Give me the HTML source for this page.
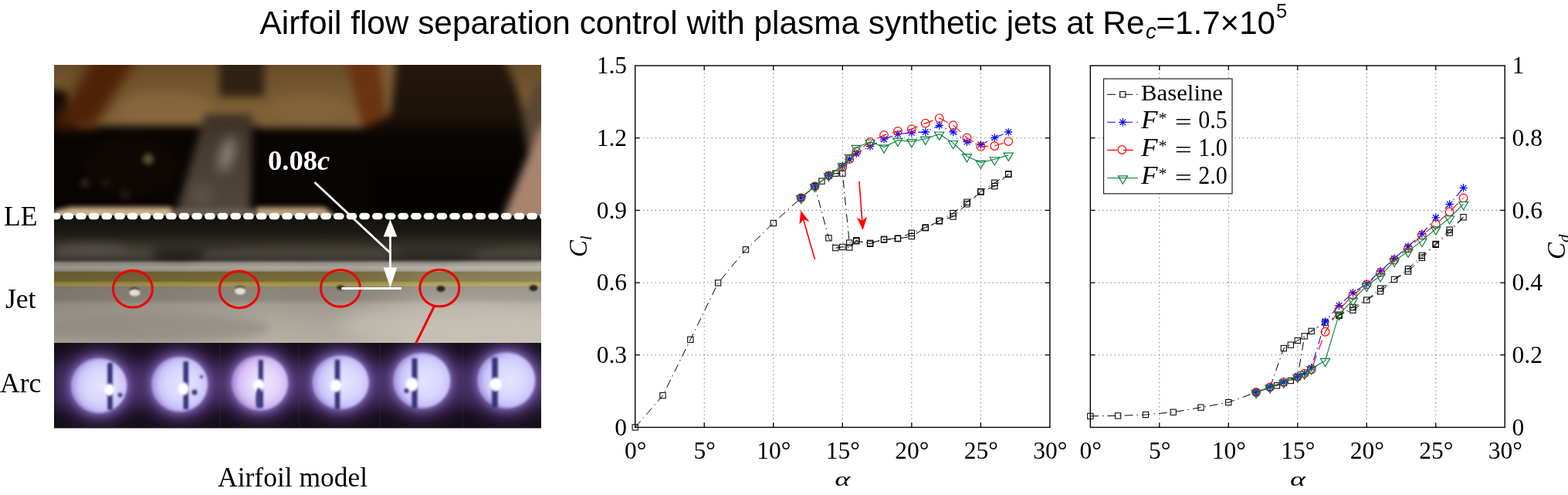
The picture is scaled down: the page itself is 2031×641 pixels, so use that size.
<!DOCTYPE html>
<html><head><meta charset="utf-8"><title>Airfoil flow separation control with plasma synthetic jets</title>
<style>
html,body{margin:0;padding:0;background:#fff;}
body{width:2031px;height:641px;overflow:hidden;}
svg{display:block;}
.tk{font-family:"Liberation Serif","Times New Roman",serif;font-size:31.5px;fill:#000;}
.ax{font-family:"Liberation Serif","Times New Roman",serif;font-size:33px;font-style:italic;fill:#000;}
.lg{font-family:"Liberation Serif","Times New Roman",serif;font-size:30px;fill:#000;}
.lab{font-family:"Liberation Serif","Times New Roman",serif;font-size:35.5px;fill:#000;}
.ttl{font-family:"Liberation Sans",Arial,sans-serif;font-size:41.6px;fill:#000;}
</style></head>
<body>
<svg width="2031" height="641" viewBox="0 0 2031 641">
<rect width="2031" height="641" fill="#fff"/>
<text x="336.5" y="44" class="ttl" textLength="1146" lengthAdjust="spacingAndGlyphs">Airfoil flow separation control with plasma synthetic jets at Re</text>
<text x="1484" y="49.6" class="ttl" style="font-size:27.5px" font-style="italic">c</text>
<text x="1497.5" y="44" class="ttl" textLength="154.5" lengthAdjust="spacingAndGlyphs">=1.7×10</text>
<text x="1653" y="23" class="ttl" style="font-size:25.5px">5</text>
<text x="5" y="291.9" class="lab">LE</text>
<text x="7" y="399" class="lab">Jet</text>
<text x="0" y="507.8" class="lab">Arc</text>
<text x="282" y="630.1" class="lab">Airfoil model</text>
<defs>
<clipPath id="cpTop"><rect x="70" y="84" width="631" height="200"/></clipPath>
<clipPath id="cpMid"><rect x="70" y="279" width="631" height="165"/></clipPath>
<clipPath id="cpArc"><rect x="70" y="444" width="631" height="110.6"/></clipPath>
<filter color-interpolation-filters="sRGB" id="b8" x="-20%" y="-20%" width="140%" height="140%"><feGaussianBlur stdDeviation="8"/></filter>
<filter color-interpolation-filters="sRGB" id="b5" x="-20%" y="-20%" width="140%" height="140%"><feGaussianBlur stdDeviation="5.5"/></filter>
<filter color-interpolation-filters="sRGB" id="b3" x="-20%" y="-20%" width="140%" height="140%"><feGaussianBlur stdDeviation="3"/></filter>
<filter color-interpolation-filters="sRGB" id="b2" x="-20%" y="-20%" width="140%" height="140%"><feGaussianBlur stdDeviation="1.6"/></filter>
<filter color-interpolation-filters="sRGB" id="b1" x="-20%" y="-20%" width="140%" height="140%"><feGaussianBlur stdDeviation="0.8"/></filter>
<filter color-interpolation-filters="sRGB" id="bg6" x="-50%" y="-50%" width="200%" height="200%"><feGaussianBlur stdDeviation="6"/></filter>
<filter color-interpolation-filters="sRGB" id="bg10" x="-50%" y="-50%" width="200%" height="200%"><feGaussianBlur stdDeviation="10"/></filter>
<linearGradient id="gTan" x1="0" y1="0" x2="0" y2="1">
 <stop offset="0" stop-color="#5e4622"/><stop offset="0.25" stop-color="#684d27"/><stop offset="0.6" stop-color="#76592f"/><stop offset="0.85" stop-color="#806238"/><stop offset="1" stop-color="#84663c"/>
</linearGradient>
<linearGradient id="gDarkR" gradientUnits="userSpaceOnUse" x1="0" y1="84" x2="0" y2="230">
 <stop offset="0" stop-color="#24170a"/><stop offset="0.45" stop-color="#1c1209"/><stop offset="0.64" stop-color="#080503"/><stop offset="1" stop-color="#050302"/>
</linearGradient>
<linearGradient id="gMount" x1="0" y1="0" x2="0" y2="1">
 <stop offset="0" stop-color="#3a3024"/><stop offset="0.3" stop-color="#463c30"/><stop offset="1" stop-color="#54493c"/>
</linearGradient>
<linearGradient id="gWing" x1="0" y1="0" x2="0" y2="1">
 <stop offset="0" stop-color="#13110d"/>
 <stop offset="0.127" stop-color="#1b1814"/>
 <stop offset="0.20" stop-color="#2c2924"/>
 <stop offset="0.30" stop-color="#3c3831"/>
 <stop offset="0.345" stop-color="#302d27"/>
 <stop offset="0.372" stop-color="#a29e95"/>
 <stop offset="0.41" stop-color="#aca89f"/>
 <stop offset="0.436" stop-color="#9a958a"/>
 <stop offset="0.445" stop-color="#726538"/>
 <stop offset="0.515" stop-color="#7a6c36"/>
 <stop offset="0.527" stop-color="#a08e40"/>
 <stop offset="0.55" stop-color="#ab9a48"/>
 <stop offset="0.56" stop-color="#8a857a"/>
 <stop offset="0.66" stop-color="#8e897e"/>
 <stop offset="0.70" stop-color="#a39d92"/>
 <stop offset="0.855" stop-color="#b0aa9f"/>
 <stop offset="1" stop-color="#b8b0a4"/>
</linearGradient>
<linearGradient id="gWingH" x1="0" y1="0" x2="1" y2="0">
 <stop offset="0" stop-color="#000" stop-opacity="0.12"/>
 <stop offset="0.45" stop-color="#000" stop-opacity="0"/>
 <stop offset="0.75" stop-color="#fff" stop-opacity="0.12"/>
 <stop offset="1" stop-color="#fff" stop-opacity="0.16"/>
</linearGradient>
<radialGradient id="gHoleP" cx="0.55" cy="0.5" r="0.5">
 <stop offset="0" stop-color="#f0e6ff"/><stop offset="0.6" stop-color="#e2d2fa"/>
 <stop offset="0.88" stop-color="#d0baf2"/><stop offset="1" stop-color="#b496dc"/>
</radialGradient>
<radialGradient id="gHole" cx="0.55" cy="0.5" r="0.5">
 <stop offset="0" stop-color="#e6e4ff"/><stop offset="0.6" stop-color="#d8d5fe"/>
 <stop offset="0.88" stop-color="#c8c2f8"/><stop offset="1" stop-color="#aca2e8"/>
</radialGradient>
<radialGradient id="gGlow" cx="0.5" cy="0.5" r="0.5">
 <stop offset="0.45" stop-color="#6a4f92" stop-opacity="1"/>
 <stop offset="0.7" stop-color="#3e2c58" stop-opacity="0.8"/>
 <stop offset="1" stop-color="#1a1424" stop-opacity="0"/>
</radialGradient>
</defs>
<g clip-path="url(#cpTop)">
<rect x="70" y="84" width="631" height="200" fill="#0a0603"/>
<g filter="url(#b5)">
<path d="M40 60H720V163H40Z" fill="url(#gTan)"/>
<path d="M330 150H472L478 168H330Z" fill="#7e6036"/>
<ellipse cx="215" cy="140" rx="60" ry="22" fill="#8a6b40" opacity="0.7"/>
<ellipse cx="400" cy="140" rx="50" ry="20" fill="#84663c" opacity="0.6"/>
<path d="M40 112L86 118L102 165V290H40Z" fill="#120a04"/>
<path d="M444 60H488L506 150L470 167Z" fill="#6a3410"/>
<path d="M488 60H518L510 138L500 150Z" fill="#7a5c34"/>
<path d="M516 60H638Q668 95 676 145L684 200L660 290H420L470 166L506 150Z" fill="url(#gDarkR)"/>
<path d="M40 163H330Q335 164 340 166H470L480 290H40Z" fill="#080402"/>
<ellipse cx="170" cy="215" rx="60" ry="40" fill="#0e0804"/>
<rect x="284" y="70" width="58" height="55" fill="#2e2213"/>
<path d="M699 165L720 150V290H648Z" fill="#a8846e"/>
<path d="M676 145L700 100L720 100V150L699 165L684 200Z" fill="#5a4632"/>
<path d="M265.6 148H326.7L323.7 290H224Z" fill="url(#gMount)"/>
</g>
<g filter="url(#b8)">
<path d="M130 60L186 60L122 166L66 166Z" fill="#4e2208"/>
<ellipse cx="294" cy="200" rx="7.5" ry="24" transform="rotate(16 294 200)" fill="#9a9084"/>
<ellipse cx="262" cy="252" rx="12" ry="14" fill="#5e554a"/>
</g>
<g filter="url(#b3)">
<circle cx="192" cy="206" r="7" fill="#5e5436"/>
<circle cx="110" cy="237" r="6" fill="#2a2418"/>
<circle cx="137" cy="237" r="6" fill="#1c160e"/>
<circle cx="162" cy="252" r="7" fill="#1e180f"/>
<path d="M92 268H222L226 284H70V273Z" fill="#cdb38e"/>
<path d="M332 268H420L440 284H332Z" fill="#b9a07c"/>
<path d="M226 270H330V284H226Z" fill="#6a5e4e"/>
</g>
</g>
<g clip-path="url(#cpMid)">
<rect x="70" y="279" width="631" height="165" fill="url(#gWing)"/>
<rect x="70" y="336" width="631" height="108" fill="url(#gWingH)"/>
<g filter="url(#b5)">
<path d="M70 318C120 314 170 318 200 322C230 330 250 332 270 326C330 318 420 320 500 322C540 326 580 332 620 326C650 320 680 318 701 320V336H70Z" fill="#47433b"/>
<ellipse cx="230" cy="330" rx="35" ry="7" fill="#221f1a"/>
<ellipse cx="560" cy="331" rx="60" ry="6" fill="#2a2722"/>
<ellipse cx="120" cy="322" rx="45" ry="6" fill="#55514a"/>
<ellipse cx="200" cy="425" rx="150" ry="18" fill="#8a857c" opacity="0.6"/>
</g>
<g filter="url(#bg10)">
<ellipse cx="590" cy="420" rx="150" ry="30" fill="#d0c8bc" opacity="0.5"/>
</g>
<g filter="url(#b1)">
<ellipse cx="174.5" cy="379" rx="7" ry="4.5" fill="#e4dfd6"/>
<path d="M168 375Q174 371 180 375" stroke="#3a332a" stroke-width="2" fill="none"/>
<ellipse cx="311" cy="377" rx="7" ry="4.5" fill="#e4dfd6"/>
<path d="M305 373Q311 369 317 373" stroke="#4a3f2a" stroke-width="2" fill="none"/>
<ellipse cx="441" cy="372.5" rx="5" ry="3" fill="#2e2822"/>
<ellipse cx="571" cy="374" rx="5.5" ry="4" fill="#2e2822"/>
<ellipse cx="691" cy="373" rx="5.5" ry="4" fill="#2e2822"/>
</g>
</g>
<g clip-path="url(#cpArc)">
<rect x="70" y="444" width="631" height="111" fill="#140e1c"/>
<g filter="url(#bg10)">
<rect x="60" y="468" width="660" height="60" fill="#35244c"/>
<ellipse cx="128.3" cy="499.5" rx="49" ry="47.5" fill="#533a78"/>
<ellipse cx="232.8" cy="497.6" rx="49.2" ry="47.5" fill="#533a78"/>
<ellipse cx="336.8" cy="496" rx="49.3" ry="47.6" fill="#533a78"/>
<ellipse cx="441.3" cy="495.1" rx="49.4" ry="46.8" fill="#533a78"/>
<ellipse cx="546.5" cy="492.9" rx="49.8" ry="47.9" fill="#533a78"/>
<ellipse cx="656" cy="492.5" rx="50.2" ry="48.3" fill="#533a78"/>
</g>
<g filter="url(#bg6)">
<ellipse cx="128.3" cy="499.5" rx="37" ry="36.5" fill="#9880cc"/>
<ellipse cx="232.8" cy="497.6" rx="37.2" ry="36.5" fill="#9880cc"/>
<ellipse cx="336.8" cy="496" rx="37.3" ry="36.6" fill="#9880cc"/>
<ellipse cx="441.3" cy="495.1" rx="37.4" ry="35.8" fill="#9880cc"/>
<ellipse cx="546.5" cy="492.9" rx="37.8" ry="36.9" fill="#9880cc"/>
<ellipse cx="656" cy="492.5" rx="38.2" ry="37.3" fill="#9880cc"/>
</g>
<g filter="url(#b2)">
<ellipse cx="128.3" cy="499.5" rx="36" ry="35.5" fill="url(#gHole)"/>
<ellipse cx="232.8" cy="497.6" rx="36.2" ry="35.5" fill="url(#gHole)"/>
<ellipse cx="336.8" cy="496" rx="36.3" ry="35.6" fill="url(#gHoleP)"/>
<ellipse cx="441.3" cy="495.1" rx="36.4" ry="34.8" fill="url(#gHole)"/>
<ellipse cx="546.5" cy="492.9" rx="36.8" ry="35.9" fill="url(#gHole)"/>
<ellipse cx="656" cy="492.5" rx="37.2" ry="36.3" fill="url(#gHole)"/>
<rect x="139.25" y="470" width="6.5" height="60.7" fill="#36327a"/>
<rect x="237.55" y="468" width="6.5" height="62" fill="#36327a"/>
<rect x="334.8" y="466" width="6" height="62" fill="#36327a"/>
<rect x="433.75" y="465.6" width="6.5" height="64.1" fill="#36327a"/>
<rect x="533.5" y="464" width="7" height="64.8" fill="#36327a"/>
<rect x="637.25" y="463" width="7.5" height="65" fill="#36327a"/>
</g>
<g filter="url(#b2)">
<ellipse cx="141.7" cy="504.7" rx="7" ry="8" fill="#f4f0ff"/>
<ellipse cx="237.6" cy="503.4" rx="7.5" ry="8.5" fill="#f4f0ff"/>
<ellipse cx="335.2" cy="499.2" rx="8" ry="8.5" fill="#f4f0ff"/>
<ellipse cx="435.2" cy="499.4" rx="8" ry="8.5" fill="#f4f0ff"/>
<ellipse cx="533.9" cy="497.7" rx="8.5" ry="9" fill="#f4f0ff"/>
<ellipse cx="642.1" cy="497.7" rx="8.5" ry="9" fill="#f4f0ff"/>
<ellipse cx="141.7" cy="504.7" rx="5.5" ry="6.5" fill="#ffffff"/>
<ellipse cx="237.6" cy="503.4" rx="6" ry="7" fill="#ffffff"/>
<ellipse cx="335.2" cy="499.2" rx="6.5" ry="7" fill="#ffffff"/>
<ellipse cx="435.2" cy="499.4" rx="6.5" ry="7" fill="#ffffff"/>
<ellipse cx="533.9" cy="497.7" rx="7" ry="7.5" fill="#ffffff"/>
<ellipse cx="642.1" cy="497.7" rx="7" ry="7.5" fill="#ffffff"/>
<circle cx="155.6" cy="511.6" r="3" fill="#4a3c80"/>
<circle cx="252" cy="508" r="3.5" fill="#3a3070"/>
<circle cx="261" cy="488" r="2" fill="#3a3070"/>
<circle cx="526.5" cy="506" r="3" fill="#3a3070"/>
<path d="M336 503Q332 515 335 528" stroke="#3a3a80" stroke-width="5" fill="none"/>
</g>
<line x1="284.5" y1="444" x2="284.5" y2="555" stroke="#5a4a70" stroke-width="1" opacity="0.25"/>
<line x1="387.5" y1="444" x2="387.5" y2="555" stroke="#5a4a70" stroke-width="1" opacity="0.25"/>
<line x1="492.4" y1="444" x2="492.4" y2="555" stroke="#5a4a70" stroke-width="1" opacity="0.25"/>
<line x1="599.7" y1="444" x2="599.7" y2="555" stroke="#5a4a70" stroke-width="1" opacity="0.25"/>
</g>
<line x1="68.8" y1="280" x2="712" y2="280" stroke="#fff" stroke-width="8.4" stroke-linecap="round" stroke-dasharray="5.4 11.294"/>
<ellipse cx="172" cy="374.2" rx="25.5" ry="23.8" fill="none" stroke="#f00000" stroke-width="3.1"/>
<ellipse cx="309.8" cy="374.9" rx="25.5" ry="23.8" fill="none" stroke="#f00000" stroke-width="3.1"/>
<ellipse cx="441" cy="373.3" rx="25.5" ry="23.8" fill="none" stroke="#f00000" stroke-width="3.1"/>
<ellipse cx="569.3" cy="373" rx="25.5" ry="23.8" fill="none" stroke="#f00000" stroke-width="3.1"/>
<line x1="562.5" y1="396.5" x2="538.5" y2="445" stroke="#f00000" stroke-width="3"/>
<line x1="407.5" y1="236" x2="505.5" y2="327.5" stroke="#fff" stroke-width="2.9"/>
<line x1="505.5" y1="300" x2="505.5" y2="350" stroke="#fff" stroke-width="2.8"/>
<path d="M505.5 284L514.3 306.5H496.7Z" fill="#fff"/>
<path d="M505.5 372.5L514.3 346.5H496.7Z" fill="#fff"/>
<line x1="442.4" y1="373.6" x2="520" y2="373.6" stroke="#fff" stroke-width="3"/>
<text x="347" y="220.3" font-family="Liberation Serif, Times New Roman, serif" font-weight="bold" font-size="36.5" fill="#fff">0.08<tspan font-style="italic">c</tspan></text>
<path d="M912.23 553.4V85 M1001.77 553.4V85 M1091.3 553.4V85 M1180.83 553.4V85 M1270.37 553.4V85 M822.7 459.72H1359.9 M822.7 366.04H1359.9 M822.7 272.36H1359.9 M822.7 178.68H1359.9" stroke="#6e6e6e" stroke-width="1.1" stroke-dasharray="1.2 4" fill="none"/>
<path d="M912.23 553.4v-6 M912.23 85v6 M1001.77 553.4v-6 M1001.77 85v6 M1091.3 553.4v-6 M1091.3 85v6 M1180.83 553.4v-6 M1180.83 85v6 M1270.37 553.4v-6 M1270.37 85v6 M822.7 459.72h6 M1359.9 459.72h-6 M822.7 366.04h6 M1359.9 366.04h-6 M822.7 272.36h6 M1359.9 272.36h-6 M822.7 178.68h6 M1359.9 178.68h-6" stroke="#000" stroke-width="1.3" fill="none"/>
<rect x="822.7" y="85" width="537.2" height="468.4" fill="none" stroke="#000" stroke-width="1.4"/>
<text x="823.2" y="594.3" class="tk" text-anchor="middle">0°</text>
<text x="912.73" y="594.3" class="tk" text-anchor="middle">5°</text>
<text x="1002.27" y="594.3" class="tk" text-anchor="middle">10°</text>
<text x="1091.8" y="594.3" class="tk" text-anchor="middle">15°</text>
<text x="1181.33" y="594.3" class="tk" text-anchor="middle">20°</text>
<text x="1270.87" y="594.3" class="tk" text-anchor="middle">25°</text>
<text x="1360.4" y="594.3" class="tk" text-anchor="middle">30°</text>
<text x="812" y="563.6" class="tk" text-anchor="end">0</text>
<text x="812" y="469.92" class="tk" text-anchor="end">0.3</text>
<text x="812" y="376.24" class="tk" text-anchor="end">0.6</text>
<text x="812" y="282.56" class="tk" text-anchor="end">0.9</text>
<text x="812" y="188.88" class="tk" text-anchor="end">1.2</text>
<text x="812" y="95.2" class="tk" text-anchor="end">1.5</text>
<polyline points="822.7,553.4 858.51,512.18 894.33,439.73 930.14,366.35 965.95,323.26 1001.77,288.91 1037.58,256.12 1055.49,241.13 1064.44,234.58 1073.39,227.39 1082.35,224.58 1091.3,224.58 1100.25,314.52 1109.21,312.33 1127.11,314.83 1145.02,309.83 1162.93,308.58 1180.83,301.71 1198.74,294.53 1216.65,285.79 1234.55,276.11 1252.46,261.74 1270.37,248 1288.27,236.76 1306.18,225.21" fill="none" stroke="#000" stroke-width="1.0" stroke-dasharray="10.7 5 1.5 5" stroke-linejoin="round"/>
<polyline points="1306.18,225.83 1288.27,241.13 1270.37,248.63 1252.46,264.24 1234.55,280.48 1216.65,286.41 1198.74,295.16 1180.83,306.08 1162.93,309.21 1145.02,310.46 1127.11,315.77 1109.21,311.08 1100.25,320.45 1091.3,319.82 1082.35,321.07 1073.39,308.27 1055.49,241.13 1037.58,256.12" fill="none" stroke="#000" stroke-width="1.0" stroke-dasharray="10.7 5 1.5 5" stroke-linejoin="round"/>
<rect x="819.05" y="549.75" width="7.3" height="7.3" fill="none" stroke="#000" stroke-width="1.05"/>
<rect x="854.86" y="508.53" width="7.3" height="7.3" fill="none" stroke="#000" stroke-width="1.05"/>
<rect x="890.68" y="436.08" width="7.3" height="7.3" fill="none" stroke="#000" stroke-width="1.05"/>
<rect x="926.49" y="362.7" width="7.3" height="7.3" fill="none" stroke="#000" stroke-width="1.05"/>
<rect x="962.3" y="319.61" width="7.3" height="7.3" fill="none" stroke="#000" stroke-width="1.05"/>
<rect x="998.12" y="285.26" width="7.3" height="7.3" fill="none" stroke="#000" stroke-width="1.05"/>
<rect x="1033.93" y="252.47" width="7.3" height="7.3" fill="none" stroke="#000" stroke-width="1.05"/>
<rect x="1051.84" y="237.48" width="7.3" height="7.3" fill="none" stroke="#000" stroke-width="1.05"/>
<rect x="1060.79" y="230.93" width="7.3" height="7.3" fill="none" stroke="#000" stroke-width="1.05"/>
<rect x="1069.74" y="223.74" width="7.3" height="7.3" fill="none" stroke="#000" stroke-width="1.05"/>
<rect x="1078.7" y="220.93" width="7.3" height="7.3" fill="none" stroke="#000" stroke-width="1.05"/>
<rect x="1087.65" y="220.93" width="7.3" height="7.3" fill="none" stroke="#000" stroke-width="1.05"/>
<rect x="1096.6" y="310.87" width="7.3" height="7.3" fill="none" stroke="#000" stroke-width="1.05"/>
<rect x="1105.56" y="308.68" width="7.3" height="7.3" fill="none" stroke="#000" stroke-width="1.05"/>
<rect x="1123.46" y="311.18" width="7.3" height="7.3" fill="none" stroke="#000" stroke-width="1.05"/>
<rect x="1141.37" y="306.18" width="7.3" height="7.3" fill="none" stroke="#000" stroke-width="1.05"/>
<rect x="1159.28" y="304.93" width="7.3" height="7.3" fill="none" stroke="#000" stroke-width="1.05"/>
<rect x="1177.18" y="298.06" width="7.3" height="7.3" fill="none" stroke="#000" stroke-width="1.05"/>
<rect x="1195.09" y="290.88" width="7.3" height="7.3" fill="none" stroke="#000" stroke-width="1.05"/>
<rect x="1213" y="282.14" width="7.3" height="7.3" fill="none" stroke="#000" stroke-width="1.05"/>
<rect x="1230.9" y="272.46" width="7.3" height="7.3" fill="none" stroke="#000" stroke-width="1.05"/>
<rect x="1248.81" y="258.09" width="7.3" height="7.3" fill="none" stroke="#000" stroke-width="1.05"/>
<rect x="1266.72" y="244.35" width="7.3" height="7.3" fill="none" stroke="#000" stroke-width="1.05"/>
<rect x="1284.62" y="233.11" width="7.3" height="7.3" fill="none" stroke="#000" stroke-width="1.05"/>
<rect x="1302.53" y="221.56" width="7.3" height="7.3" fill="none" stroke="#000" stroke-width="1.05"/>
<rect x="1302.53" y="222.18" width="7.3" height="7.3" fill="none" stroke="#000" stroke-width="1.05"/>
<rect x="1284.62" y="237.48" width="7.3" height="7.3" fill="none" stroke="#000" stroke-width="1.05"/>
<rect x="1266.72" y="244.98" width="7.3" height="7.3" fill="none" stroke="#000" stroke-width="1.05"/>
<rect x="1248.81" y="260.59" width="7.3" height="7.3" fill="none" stroke="#000" stroke-width="1.05"/>
<rect x="1230.9" y="276.83" width="7.3" height="7.3" fill="none" stroke="#000" stroke-width="1.05"/>
<rect x="1213" y="282.76" width="7.3" height="7.3" fill="none" stroke="#000" stroke-width="1.05"/>
<rect x="1195.09" y="291.51" width="7.3" height="7.3" fill="none" stroke="#000" stroke-width="1.05"/>
<rect x="1177.18" y="302.43" width="7.3" height="7.3" fill="none" stroke="#000" stroke-width="1.05"/>
<rect x="1159.28" y="305.56" width="7.3" height="7.3" fill="none" stroke="#000" stroke-width="1.05"/>
<rect x="1141.37" y="306.81" width="7.3" height="7.3" fill="none" stroke="#000" stroke-width="1.05"/>
<rect x="1123.46" y="312.12" width="7.3" height="7.3" fill="none" stroke="#000" stroke-width="1.05"/>
<rect x="1105.56" y="307.43" width="7.3" height="7.3" fill="none" stroke="#000" stroke-width="1.05"/>
<rect x="1096.6" y="316.8" width="7.3" height="7.3" fill="none" stroke="#000" stroke-width="1.05"/>
<rect x="1087.65" y="316.17" width="7.3" height="7.3" fill="none" stroke="#000" stroke-width="1.05"/>
<rect x="1078.7" y="317.42" width="7.3" height="7.3" fill="none" stroke="#000" stroke-width="1.05"/>
<rect x="1069.74" y="304.62" width="7.3" height="7.3" fill="none" stroke="#000" stroke-width="1.05"/>
<polyline points="1037.58,256.12 1055.49,241.13 1073.39,227.08 1091.3,214.59 1100.25,206.16 1109.21,198.98 1127.11,189.61 1145.02,180.24 1162.93,173.68 1180.83,171.81 1198.74,170.87 1216.65,162.44 1234.55,170.87 1252.46,183.68 1270.37,187.42 1288.27,178.37 1306.18,170.87" fill="none" stroke="#0000ff" stroke-width="1.1" stroke-dasharray="10.7 5 1.5 5" stroke-linejoin="round"/>
<path d="M1037.58 250.92V261.32 M1032.38 256.12H1042.78 M1033.84 252.38L1041.32 259.87 M1033.84 259.87L1041.32 252.38" stroke="#0000ff" stroke-width="1.2" fill="none"/>
<path d="M1055.49 235.93V246.33 M1050.29 241.13H1060.69 M1051.74 237.39L1059.23 244.88 M1051.74 244.88L1059.23 237.39" stroke="#0000ff" stroke-width="1.2" fill="none"/>
<path d="M1073.39 221.88V232.28 M1068.19 227.08H1078.59 M1069.65 223.34L1077.14 230.83 M1069.65 230.83L1077.14 223.34" stroke="#0000ff" stroke-width="1.2" fill="none"/>
<path d="M1091.3 209.39V219.79 M1086.1 214.59H1096.5 M1087.56 210.85L1095.04 218.33 M1087.56 218.33L1095.04 210.85" stroke="#0000ff" stroke-width="1.2" fill="none"/>
<path d="M1100.25 200.96V211.36 M1095.05 206.16H1105.45 M1096.51 202.42L1104 209.9 M1096.51 209.9L1104 202.42" stroke="#0000ff" stroke-width="1.2" fill="none"/>
<path d="M1109.21 193.78V204.18 M1104.01 198.98H1114.41 M1105.46 195.23L1112.95 202.72 M1105.46 202.72L1112.95 195.23" stroke="#0000ff" stroke-width="1.2" fill="none"/>
<path d="M1127.11 184.41V194.81 M1121.91 189.61H1132.31 M1123.37 185.87L1130.86 193.35 M1123.37 193.35L1130.86 185.87" stroke="#0000ff" stroke-width="1.2" fill="none"/>
<path d="M1145.02 175.04V185.44 M1139.82 180.24H1150.22 M1141.28 176.5L1148.76 183.99 M1141.28 183.99L1148.76 176.5" stroke="#0000ff" stroke-width="1.2" fill="none"/>
<path d="M1162.93 168.48V178.88 M1157.73 173.68H1168.13 M1159.18 169.94L1166.67 177.43 M1159.18 177.43L1166.67 169.94" stroke="#0000ff" stroke-width="1.2" fill="none"/>
<path d="M1180.83 166.61V177.01 M1175.63 171.81H1186.03 M1177.09 168.07L1184.58 175.55 M1177.09 175.55L1184.58 168.07" stroke="#0000ff" stroke-width="1.2" fill="none"/>
<path d="M1198.74 165.67V176.07 M1193.54 170.87H1203.94 M1195 167.13L1202.48 174.62 M1195 174.62L1202.48 167.13" stroke="#0000ff" stroke-width="1.2" fill="none"/>
<path d="M1216.65 157.24V167.64 M1211.45 162.44H1221.85 M1212.9 158.7L1220.39 166.19 M1212.9 166.19L1220.39 158.7" stroke="#0000ff" stroke-width="1.2" fill="none"/>
<path d="M1234.55 165.67V176.07 M1229.35 170.87H1239.75 M1230.81 167.13L1238.3 174.62 M1230.81 174.62L1238.3 167.13" stroke="#0000ff" stroke-width="1.2" fill="none"/>
<path d="M1252.46 178.48V188.88 M1247.26 183.68H1257.66 M1248.72 179.93L1256.2 187.42 M1248.72 187.42L1256.2 179.93" stroke="#0000ff" stroke-width="1.2" fill="none"/>
<path d="M1270.37 182.22V192.62 M1265.17 187.42H1275.57 M1266.62 183.68L1274.11 191.17 M1266.62 191.17L1274.11 183.68" stroke="#0000ff" stroke-width="1.2" fill="none"/>
<path d="M1288.27 173.17V183.57 M1283.07 178.37H1293.47 M1284.53 174.62L1292.02 182.11 M1284.53 182.11L1292.02 174.62" stroke="#0000ff" stroke-width="1.2" fill="none"/>
<path d="M1306.18 165.67V176.07 M1300.98 170.87H1311.38 M1302.44 167.13L1309.92 174.62 M1302.44 174.62L1309.92 167.13" stroke="#0000ff" stroke-width="1.2" fill="none"/>
<polyline points="1037.58,256.12 1055.49,241.13 1073.39,227.08 1091.3,216.46 1100.25,206.16 1109.21,196.17 1127.11,183.99 1145.02,174.93 1162.93,169.94 1180.83,167.13 1198.74,159.63 1216.65,153.07 1234.55,162.13 1252.46,178.37 1270.37,189.92 1288.27,188.98 1306.18,183.05" fill="none" stroke="#ff0000" stroke-width="1.1" stroke-dasharray="13 8" stroke-linejoin="round"/>
<circle cx="1037.58" cy="256.12" r="5.3" fill="none" stroke="#ff0000" stroke-width="1.2"/>
<circle cx="1055.49" cy="241.13" r="5.3" fill="none" stroke="#ff0000" stroke-width="1.2"/>
<circle cx="1073.39" cy="227.08" r="5.3" fill="none" stroke="#ff0000" stroke-width="1.2"/>
<circle cx="1091.3" cy="216.46" r="5.3" fill="none" stroke="#ff0000" stroke-width="1.2"/>
<circle cx="1100.25" cy="206.16" r="5.3" fill="none" stroke="#ff0000" stroke-width="1.2"/>
<circle cx="1109.21" cy="196.17" r="5.3" fill="none" stroke="#ff0000" stroke-width="1.2"/>
<circle cx="1127.11" cy="183.99" r="5.3" fill="none" stroke="#ff0000" stroke-width="1.2"/>
<circle cx="1145.02" cy="174.93" r="5.3" fill="none" stroke="#ff0000" stroke-width="1.2"/>
<circle cx="1162.93" cy="169.94" r="5.3" fill="none" stroke="#ff0000" stroke-width="1.2"/>
<circle cx="1180.83" cy="167.13" r="5.3" fill="none" stroke="#ff0000" stroke-width="1.2"/>
<circle cx="1198.74" cy="159.63" r="5.3" fill="none" stroke="#ff0000" stroke-width="1.2"/>
<circle cx="1216.65" cy="153.07" r="5.3" fill="none" stroke="#ff0000" stroke-width="1.2"/>
<circle cx="1234.55" cy="162.13" r="5.3" fill="none" stroke="#ff0000" stroke-width="1.2"/>
<circle cx="1252.46" cy="178.37" r="5.3" fill="none" stroke="#ff0000" stroke-width="1.2"/>
<circle cx="1270.37" cy="189.92" r="5.3" fill="none" stroke="#ff0000" stroke-width="1.2"/>
<circle cx="1288.27" cy="188.98" r="5.3" fill="none" stroke="#ff0000" stroke-width="1.2"/>
<circle cx="1306.18" cy="183.05" r="5.3" fill="none" stroke="#ff0000" stroke-width="1.2"/>
<polyline points="1037.58,256.12 1055.49,241.13 1073.39,227.08 1091.3,214.45 1100.25,202.9 1109.21,191.03 1127.11,183.85 1145.02,190.41 1162.93,181.66 1180.83,183.23 1198.74,179.79 1216.65,173.55 1234.55,185.1 1252.46,202.27 1270.37,210.7 1288.27,206.33 1306.18,200.71" fill="none" stroke="#00803c" stroke-width="1.1" stroke-linejoin="round"/>
<path d="M1031.48 253.52H1043.68L1037.58 263.72Z" fill="none" stroke="#00803c" stroke-width="1.15" stroke-linejoin="miter"/>
<path d="M1049.39 238.53H1061.59L1055.49 248.73Z" fill="none" stroke="#00803c" stroke-width="1.15" stroke-linejoin="miter"/>
<path d="M1067.29 224.48H1079.49L1073.39 234.68Z" fill="none" stroke="#00803c" stroke-width="1.15" stroke-linejoin="miter"/>
<path d="M1085.2 211.85H1097.4L1091.3 222.05Z" fill="none" stroke="#00803c" stroke-width="1.15" stroke-linejoin="miter"/>
<path d="M1094.15 200.3H1106.35L1100.25 210.5Z" fill="none" stroke="#00803c" stroke-width="1.15" stroke-linejoin="miter"/>
<path d="M1103.11 188.43H1115.31L1109.21 198.63Z" fill="none" stroke="#00803c" stroke-width="1.15" stroke-linejoin="miter"/>
<path d="M1121.01 181.25H1133.21L1127.11 191.45Z" fill="none" stroke="#00803c" stroke-width="1.15" stroke-linejoin="miter"/>
<path d="M1138.92 187.81H1151.12L1145.02 198.01Z" fill="none" stroke="#00803c" stroke-width="1.15" stroke-linejoin="miter"/>
<path d="M1156.83 179.06H1169.03L1162.93 189.26Z" fill="none" stroke="#00803c" stroke-width="1.15" stroke-linejoin="miter"/>
<path d="M1174.73 180.63H1186.93L1180.83 190.83Z" fill="none" stroke="#00803c" stroke-width="1.15" stroke-linejoin="miter"/>
<path d="M1192.64 177.19H1204.84L1198.74 187.39Z" fill="none" stroke="#00803c" stroke-width="1.15" stroke-linejoin="miter"/>
<path d="M1210.55 170.95H1222.75L1216.65 181.15Z" fill="none" stroke="#00803c" stroke-width="1.15" stroke-linejoin="miter"/>
<path d="M1228.45 182.5H1240.65L1234.55 192.7Z" fill="none" stroke="#00803c" stroke-width="1.15" stroke-linejoin="miter"/>
<path d="M1246.36 199.67H1258.56L1252.46 209.87Z" fill="none" stroke="#00803c" stroke-width="1.15" stroke-linejoin="miter"/>
<path d="M1264.27 208.1H1276.47L1270.37 218.3Z" fill="none" stroke="#00803c" stroke-width="1.15" stroke-linejoin="miter"/>
<path d="M1282.17 203.73H1294.37L1288.27 213.93Z" fill="none" stroke="#00803c" stroke-width="1.15" stroke-linejoin="miter"/>
<path d="M1300.08 198.11H1312.28L1306.18 208.31Z" fill="none" stroke="#00803c" stroke-width="1.15" stroke-linejoin="miter"/>
<path d="M1501.78 553.4V85 M1591.27 553.4V85 M1680.75 553.4V85 M1770.23 553.4V85 M1859.72 553.4V85 M1412.3 459.72H1949.2 M1412.3 366.04H1949.2 M1412.3 272.36H1949.2 M1412.3 178.68H1949.2" stroke="#6e6e6e" stroke-width="1.1" stroke-dasharray="1.2 4" fill="none"/>
<path d="M1501.78 553.4v-6 M1501.78 85v6 M1591.27 553.4v-6 M1591.27 85v6 M1680.75 553.4v-6 M1680.75 85v6 M1770.23 553.4v-6 M1770.23 85v6 M1859.72 553.4v-6 M1859.72 85v6 M1412.3 459.72h6 M1949.2 459.72h-6 M1412.3 366.04h6 M1949.2 366.04h-6 M1412.3 272.36h6 M1949.2 272.36h-6 M1412.3 178.68h6 M1949.2 178.68h-6" stroke="#000" stroke-width="1.3" fill="none"/>
<rect x="1412.3" y="85" width="536.9" height="468.4" fill="none" stroke="#000" stroke-width="1.4"/>
<text x="1412.8" y="594.3" class="tk" text-anchor="middle">0°</text>
<text x="1502.28" y="594.3" class="tk" text-anchor="middle">5°</text>
<text x="1591.77" y="594.3" class="tk" text-anchor="middle">10°</text>
<text x="1681.25" y="594.3" class="tk" text-anchor="middle">15°</text>
<text x="1770.73" y="594.3" class="tk" text-anchor="middle">20°</text>
<text x="1860.22" y="594.3" class="tk" text-anchor="middle">25°</text>
<text x="1949.7" y="594.3" class="tk" text-anchor="middle">30°</text>
<text x="1958.5" y="563.6" class="tk">0</text>
<text x="1958.5" y="469.92" class="tk">0.2</text>
<text x="1958.5" y="376.24" class="tk">0.4</text>
<text x="1958.5" y="282.56" class="tk">0.6</text>
<text x="1958.5" y="188.88" class="tk">0.8</text>
<text x="1958.5" y="95.2" class="tk">1</text>
<polyline points="1412.3,538.88 1448.09,538.41 1483.89,537.01 1519.68,533.73 1555.47,527.64 1591.27,521.08 1627.06,507.97 1644.96,501.88 1653.9,499.3 1662.85,495.79 1671.8,492.98 1680.75,488.29 1689.7,435.36 1698.65,428.81 1716.54,417.56 1734.44,408.66 1752.34,397.89 1770.23,388.52 1788.13,373.53 1806.03,361.82 1823.92,348.24 1841.82,330.91 1859.72,315.92 1877.61,297.65 1895.51,281.26" fill="none" stroke="#000" stroke-width="1.0" stroke-dasharray="10.7 5 1.5 5" stroke-linejoin="round"/>
<polyline points="1895.51,281.26 1877.61,301.4 1859.72,316.86 1841.82,333.72 1823.92,351.52 1806.03,361.82 1788.13,377.28 1770.23,388.52 1752.34,401.64 1734.44,407.73 1716.54,417.56 1698.65,428.81 1689.7,435.36 1680.75,440.98 1671.8,446.6 1662.85,451.01 1644.96,501.88 1627.06,507.97" fill="none" stroke="#000" stroke-width="1.0" stroke-dasharray="10.7 5 1.5 5" stroke-linejoin="round"/>
<rect x="1408.65" y="535.23" width="7.3" height="7.3" fill="none" stroke="#000" stroke-width="1.05"/>
<rect x="1444.44" y="534.76" width="7.3" height="7.3" fill="none" stroke="#000" stroke-width="1.05"/>
<rect x="1480.24" y="533.36" width="7.3" height="7.3" fill="none" stroke="#000" stroke-width="1.05"/>
<rect x="1516.03" y="530.08" width="7.3" height="7.3" fill="none" stroke="#000" stroke-width="1.05"/>
<rect x="1551.82" y="523.99" width="7.3" height="7.3" fill="none" stroke="#000" stroke-width="1.05"/>
<rect x="1587.62" y="517.43" width="7.3" height="7.3" fill="none" stroke="#000" stroke-width="1.05"/>
<rect x="1623.41" y="504.32" width="7.3" height="7.3" fill="none" stroke="#000" stroke-width="1.05"/>
<rect x="1641.31" y="498.23" width="7.3" height="7.3" fill="none" stroke="#000" stroke-width="1.05"/>
<rect x="1650.25" y="495.65" width="7.3" height="7.3" fill="none" stroke="#000" stroke-width="1.05"/>
<rect x="1659.2" y="492.14" width="7.3" height="7.3" fill="none" stroke="#000" stroke-width="1.05"/>
<rect x="1668.15" y="489.33" width="7.3" height="7.3" fill="none" stroke="#000" stroke-width="1.05"/>
<rect x="1677.1" y="484.64" width="7.3" height="7.3" fill="none" stroke="#000" stroke-width="1.05"/>
<rect x="1686.05" y="431.71" width="7.3" height="7.3" fill="none" stroke="#000" stroke-width="1.05"/>
<rect x="1695" y="425.16" width="7.3" height="7.3" fill="none" stroke="#000" stroke-width="1.05"/>
<rect x="1712.89" y="413.91" width="7.3" height="7.3" fill="none" stroke="#000" stroke-width="1.05"/>
<rect x="1730.79" y="405.01" width="7.3" height="7.3" fill="none" stroke="#000" stroke-width="1.05"/>
<rect x="1748.69" y="394.24" width="7.3" height="7.3" fill="none" stroke="#000" stroke-width="1.05"/>
<rect x="1766.58" y="384.87" width="7.3" height="7.3" fill="none" stroke="#000" stroke-width="1.05"/>
<rect x="1784.48" y="369.88" width="7.3" height="7.3" fill="none" stroke="#000" stroke-width="1.05"/>
<rect x="1802.38" y="358.17" width="7.3" height="7.3" fill="none" stroke="#000" stroke-width="1.05"/>
<rect x="1820.27" y="344.59" width="7.3" height="7.3" fill="none" stroke="#000" stroke-width="1.05"/>
<rect x="1838.17" y="327.26" width="7.3" height="7.3" fill="none" stroke="#000" stroke-width="1.05"/>
<rect x="1856.07" y="312.27" width="7.3" height="7.3" fill="none" stroke="#000" stroke-width="1.05"/>
<rect x="1873.96" y="294" width="7.3" height="7.3" fill="none" stroke="#000" stroke-width="1.05"/>
<rect x="1891.86" y="277.61" width="7.3" height="7.3" fill="none" stroke="#000" stroke-width="1.05"/>
<rect x="1873.96" y="297.75" width="7.3" height="7.3" fill="none" stroke="#000" stroke-width="1.05"/>
<rect x="1856.07" y="313.21" width="7.3" height="7.3" fill="none" stroke="#000" stroke-width="1.05"/>
<rect x="1838.17" y="330.07" width="7.3" height="7.3" fill="none" stroke="#000" stroke-width="1.05"/>
<rect x="1820.27" y="347.87" width="7.3" height="7.3" fill="none" stroke="#000" stroke-width="1.05"/>
<rect x="1784.48" y="373.63" width="7.3" height="7.3" fill="none" stroke="#000" stroke-width="1.05"/>
<rect x="1748.69" y="397.99" width="7.3" height="7.3" fill="none" stroke="#000" stroke-width="1.05"/>
<rect x="1730.79" y="404.08" width="7.3" height="7.3" fill="none" stroke="#000" stroke-width="1.05"/>
<rect x="1677.1" y="437.33" width="7.3" height="7.3" fill="none" stroke="#000" stroke-width="1.05"/>
<rect x="1668.15" y="442.95" width="7.3" height="7.3" fill="none" stroke="#000" stroke-width="1.05"/>
<rect x="1659.2" y="447.36" width="7.3" height="7.3" fill="none" stroke="#000" stroke-width="1.05"/>
<polyline points="1627.06,507.97 1644.96,501.41 1662.85,494.85 1680.75,487.82 1689.7,483.61 1698.65,476.11 1716.54,416.16 1734.44,395.55 1752.34,379.16 1770.23,367.45 1788.13,351.05 1806.03,334.66 1823.92,319.2 1841.82,302.81 1859.72,281.73 1877.61,264.4 1895.51,243.32" fill="none" stroke="#0000ff" stroke-width="1.1" stroke-dasharray="10.7 5 1.5 5" stroke-linejoin="round"/>
<path d="M1627.06 502.77V513.17 M1621.86 507.97H1632.26 M1623.32 504.22L1630.8 511.71 M1623.32 511.71L1630.8 504.22" stroke="#0000ff" stroke-width="1.2" fill="none"/>
<path d="M1644.96 496.21V506.61 M1639.76 501.41H1650.16 M1641.21 497.66L1648.7 505.15 M1641.21 505.15L1648.7 497.66" stroke="#0000ff" stroke-width="1.2" fill="none"/>
<path d="M1662.85 489.65V500.05 M1657.65 494.85H1668.05 M1659.11 491.11L1666.6 498.59 M1659.11 498.59L1666.6 491.11" stroke="#0000ff" stroke-width="1.2" fill="none"/>
<path d="M1680.75 482.62V493.02 M1675.55 487.82H1685.95 M1677.01 484.08L1684.49 491.57 M1677.01 491.57L1684.49 484.08" stroke="#0000ff" stroke-width="1.2" fill="none"/>
<path d="M1689.7 478.41V488.81 M1684.5 483.61H1694.9 M1685.95 479.86L1693.44 487.35 M1685.95 487.35L1693.44 479.86" stroke="#0000ff" stroke-width="1.2" fill="none"/>
<path d="M1698.65 470.91V481.31 M1693.45 476.11H1703.85 M1694.9 472.37L1702.39 479.86 M1694.9 479.86L1702.39 472.37" stroke="#0000ff" stroke-width="1.2" fill="none"/>
<path d="M1716.54 410.96V421.36 M1711.34 416.16H1721.74 M1712.8 412.41L1720.29 419.9 M1712.8 419.9L1720.29 412.41" stroke="#0000ff" stroke-width="1.2" fill="none"/>
<path d="M1734.44 390.35V400.75 M1729.24 395.55H1739.64 M1730.7 391.81L1738.18 399.29 M1730.7 399.29L1738.18 391.81" stroke="#0000ff" stroke-width="1.2" fill="none"/>
<path d="M1752.34 373.96V384.36 M1747.14 379.16H1757.54 M1748.59 375.41L1756.08 382.9 M1748.59 382.9L1756.08 375.41" stroke="#0000ff" stroke-width="1.2" fill="none"/>
<path d="M1770.23 362.25V372.65 M1765.03 367.45H1775.43 M1766.49 363.7L1773.98 371.19 M1766.49 371.19L1773.98 363.7" stroke="#0000ff" stroke-width="1.2" fill="none"/>
<path d="M1788.13 345.85V356.25 M1782.93 351.05H1793.33 M1784.39 347.31L1791.87 354.8 M1784.39 354.8L1791.87 347.31" stroke="#0000ff" stroke-width="1.2" fill="none"/>
<path d="M1806.03 329.46V339.86 M1800.83 334.66H1811.23 M1802.28 330.91L1809.77 338.4 M1802.28 338.4L1809.77 330.91" stroke="#0000ff" stroke-width="1.2" fill="none"/>
<path d="M1823.92 314V324.4 M1818.72 319.2H1829.12 M1820.18 315.46L1827.67 322.94 M1820.18 322.94L1827.67 315.46" stroke="#0000ff" stroke-width="1.2" fill="none"/>
<path d="M1841.82 297.61V308.01 M1836.62 302.81H1847.02 M1838.08 299.06L1845.56 306.55 M1838.08 306.55L1845.56 299.06" stroke="#0000ff" stroke-width="1.2" fill="none"/>
<path d="M1859.72 276.53V286.93 M1854.52 281.73H1864.92 M1855.97 277.98L1863.46 285.47 M1855.97 285.47L1863.46 277.98" stroke="#0000ff" stroke-width="1.2" fill="none"/>
<path d="M1877.61 259.2V269.6 M1872.41 264.4H1882.81 M1873.87 260.65L1881.36 268.14 M1873.87 268.14L1881.36 260.65" stroke="#0000ff" stroke-width="1.2" fill="none"/>
<path d="M1895.51 238.12V248.52 M1890.31 243.32H1900.71 M1891.77 239.58L1899.25 247.06 M1891.77 247.06L1899.25 239.58" stroke="#0000ff" stroke-width="1.2" fill="none"/>
<polyline points="1627.06,507.97 1644.96,501.41 1662.85,494.85 1680.75,487.82 1689.7,483.61 1698.65,478.46 1716.54,429.74 1734.44,401.17 1752.34,382.43 1770.23,368.38 1788.13,352.92 1806.03,336.53 1823.92,321.54 1841.82,304.68 1859.72,290.63 1877.61,274.23 1895.51,256.43" fill="none" stroke="#ff0000" stroke-width="1.1" stroke-dasharray="13 8" stroke-linejoin="round"/>
<circle cx="1627.06" cy="507.97" r="5.3" fill="none" stroke="#ff0000" stroke-width="1.2"/>
<circle cx="1644.96" cy="501.41" r="5.3" fill="none" stroke="#ff0000" stroke-width="1.2"/>
<circle cx="1662.85" cy="494.85" r="5.3" fill="none" stroke="#ff0000" stroke-width="1.2"/>
<circle cx="1680.75" cy="487.82" r="5.3" fill="none" stroke="#ff0000" stroke-width="1.2"/>
<circle cx="1689.7" cy="483.61" r="5.3" fill="none" stroke="#ff0000" stroke-width="1.2"/>
<circle cx="1698.65" cy="478.46" r="5.3" fill="none" stroke="#ff0000" stroke-width="1.2"/>
<circle cx="1716.54" cy="429.74" r="5.3" fill="none" stroke="#ff0000" stroke-width="1.2"/>
<circle cx="1734.44" cy="401.17" r="5.3" fill="none" stroke="#ff0000" stroke-width="1.2"/>
<circle cx="1752.34" cy="382.43" r="5.3" fill="none" stroke="#ff0000" stroke-width="1.2"/>
<circle cx="1770.23" cy="368.38" r="5.3" fill="none" stroke="#ff0000" stroke-width="1.2"/>
<circle cx="1788.13" cy="352.92" r="5.3" fill="none" stroke="#ff0000" stroke-width="1.2"/>
<circle cx="1806.03" cy="336.53" r="5.3" fill="none" stroke="#ff0000" stroke-width="1.2"/>
<circle cx="1823.92" cy="321.54" r="5.3" fill="none" stroke="#ff0000" stroke-width="1.2"/>
<circle cx="1841.82" cy="304.68" r="5.3" fill="none" stroke="#ff0000" stroke-width="1.2"/>
<circle cx="1859.72" cy="290.63" r="5.3" fill="none" stroke="#ff0000" stroke-width="1.2"/>
<circle cx="1877.61" cy="274.23" r="5.3" fill="none" stroke="#ff0000" stroke-width="1.2"/>
<circle cx="1895.51" cy="256.43" r="5.3" fill="none" stroke="#ff0000" stroke-width="1.2"/>
<polyline points="1627.06,507.97 1644.96,501.41 1662.85,494.85 1680.75,487.82 1689.7,483.61 1698.65,477.22 1716.54,466.92 1734.44,406.96 1752.34,388.7 1770.23,369.96 1788.13,357.31 1806.03,338.11 1823.92,325.46 1841.82,311.88 1859.72,296.42 1877.61,282.37 1895.51,264.1" fill="none" stroke="#00803c" stroke-width="1.1" stroke-linejoin="round"/>
<path d="M1620.96 505.37H1633.16L1627.06 515.57Z" fill="none" stroke="#00803c" stroke-width="1.15" stroke-linejoin="miter"/>
<path d="M1638.86 498.81H1651.06L1644.96 509.01Z" fill="none" stroke="#00803c" stroke-width="1.15" stroke-linejoin="miter"/>
<path d="M1656.75 492.25H1668.95L1662.85 502.45Z" fill="none" stroke="#00803c" stroke-width="1.15" stroke-linejoin="miter"/>
<path d="M1674.65 485.22H1686.85L1680.75 495.42Z" fill="none" stroke="#00803c" stroke-width="1.15" stroke-linejoin="miter"/>
<path d="M1683.6 481.01H1695.8L1689.7 491.21Z" fill="none" stroke="#00803c" stroke-width="1.15" stroke-linejoin="miter"/>
<path d="M1692.55 474.62H1704.75L1698.65 484.82Z" fill="none" stroke="#00803c" stroke-width="1.15" stroke-linejoin="miter"/>
<path d="M1710.44 464.32H1722.64L1716.54 474.52Z" fill="none" stroke="#00803c" stroke-width="1.15" stroke-linejoin="miter"/>
<path d="M1728.34 404.36H1740.54L1734.44 414.56Z" fill="none" stroke="#00803c" stroke-width="1.15" stroke-linejoin="miter"/>
<path d="M1746.24 386.1H1758.44L1752.34 396.3Z" fill="none" stroke="#00803c" stroke-width="1.15" stroke-linejoin="miter"/>
<path d="M1764.13 367.36H1776.33L1770.23 377.56Z" fill="none" stroke="#00803c" stroke-width="1.15" stroke-linejoin="miter"/>
<path d="M1782.03 354.71H1794.23L1788.13 364.91Z" fill="none" stroke="#00803c" stroke-width="1.15" stroke-linejoin="miter"/>
<path d="M1799.93 335.51H1812.13L1806.03 345.71Z" fill="none" stroke="#00803c" stroke-width="1.15" stroke-linejoin="miter"/>
<path d="M1817.82 322.86H1830.02L1823.92 333.06Z" fill="none" stroke="#00803c" stroke-width="1.15" stroke-linejoin="miter"/>
<path d="M1835.72 309.28H1847.92L1841.82 319.48Z" fill="none" stroke="#00803c" stroke-width="1.15" stroke-linejoin="miter"/>
<path d="M1853.62 293.82H1865.82L1859.72 304.02Z" fill="none" stroke="#00803c" stroke-width="1.15" stroke-linejoin="miter"/>
<path d="M1871.51 279.77H1883.71L1877.61 289.97Z" fill="none" stroke="#00803c" stroke-width="1.15" stroke-linejoin="miter"/>
<path d="M1889.41 261.5H1901.61L1895.51 271.7Z" fill="none" stroke="#00803c" stroke-width="1.15" stroke-linejoin="miter"/>
<line x1="1055.5" y1="336" x2="1040.59" y2="284.26" stroke="#ff0000" stroke-width="1.6"/><path d="M1037.2 272.5L1048.39 286.97L1040.59 284.26L1035.42 290.7Z" fill="#ff0000"/>
<line x1="1112.9" y1="234.8" x2="1116.77" y2="285.8" stroke="#ff0000" stroke-width="1.6"/><path d="M1117.7 298L1109.68 281.56L1116.77 285.8L1123.14 280.54Z" fill="#ff0000"/>
<text transform="translate(1091.3 629.4) scale(1.15 0.78)" class="ax" text-anchor="middle">α</text>
<text transform="translate(1681 629.4) scale(1.15 0.78)" class="ax" text-anchor="middle">α</text>
<text transform="translate(760 333) rotate(-90)" class="ax">C<tspan font-size="21" dy="6">l</tspan></text>
<text transform="translate(2027 336) rotate(-90)" class="ax">C<tspan font-size="21" dy="6">d</tspan></text>
<rect x="1429.5" y="102" width="166.5" height="148.8" fill="#fff" stroke="#222" stroke-width="1.2"/>
<polyline points="1434.2,122.3 1474,122.3" fill="none" stroke="#000" stroke-width="1.0" stroke-dasharray="10.7 5 1.5 5" stroke-linejoin="round"/>
<rect x="1450.65" y="118.65" width="7.3" height="7.3" fill="none" stroke="#000" stroke-width="1.05"/>
<polyline points="1434.2,158.3 1474,158.3" fill="none" stroke="#0000ff" stroke-width="1.1" stroke-dasharray="10.7 5 1.5 5" stroke-linejoin="round"/>
<path d="M1454.3 153.1V163.5 M1449.1 158.3H1459.5 M1450.56 154.56L1458.04 162.04 M1450.56 162.04L1458.04 154.56" stroke="#0000ff" stroke-width="1.2" fill="none"/>
<polyline points="1434.2,194.4 1469,194.4" fill="none" stroke="#ff0000" stroke-width="1.1" stroke-dasharray="13 8" stroke-linejoin="round"/>
<circle cx="1453.4" cy="194" r="5.3" fill="none" stroke="#ff0000" stroke-width="1.2"/>
<polyline points="1434.2,230.5 1474,230.5" fill="none" stroke="#00803c" stroke-width="1.1" stroke-linejoin="round"/>
<path d="M1448.3 227.9H1460.5L1454.4 238.1Z" fill="none" stroke="#00803c" stroke-width="1.15" stroke-linejoin="miter"/>
<text x="1478" y="129.6" class="lg" textLength="106" lengthAdjust="spacingAndGlyphs">Baseline</text>
<text x="1478" y="165.7" class="lg" style="font-size:33.5px" font-style="italic" textLength="21.5" lengthAdjust="spacingAndGlyphs">F</text>
<text x="1500.6" y="159.7" class="lg" style="font-size:22px">*</text>
<text x="1521.8" y="168.1" class="lg" style="font-size:30px" textLength="22" lengthAdjust="spacingAndGlyphs">=</text>
<text x="1552.3" y="166.3" class="lg" style="font-size:33px" textLength="37.5" lengthAdjust="spacingAndGlyphs">0.5</text>
<text x="1478" y="201.7" class="lg" style="font-size:33.5px" font-style="italic" textLength="21.5" lengthAdjust="spacingAndGlyphs">F</text>
<text x="1500.6" y="195.7" class="lg" style="font-size:22px">*</text>
<text x="1521.8" y="204.1" class="lg" style="font-size:30px" textLength="22" lengthAdjust="spacingAndGlyphs">=</text>
<text x="1552.3" y="202.3" class="lg" style="font-size:33px" textLength="37.5" lengthAdjust="spacingAndGlyphs">1.0</text>
<text x="1478" y="237.7" class="lg" style="font-size:33.5px" font-style="italic" textLength="21.5" lengthAdjust="spacingAndGlyphs">F</text>
<text x="1500.6" y="231.7" class="lg" style="font-size:22px">*</text>
<text x="1521.8" y="240.1" class="lg" style="font-size:30px" textLength="22" lengthAdjust="spacingAndGlyphs">=</text>
<text x="1552.3" y="238.3" class="lg" style="font-size:33px" textLength="37.5" lengthAdjust="spacingAndGlyphs">2.0</text>
</svg>
</body></html>
